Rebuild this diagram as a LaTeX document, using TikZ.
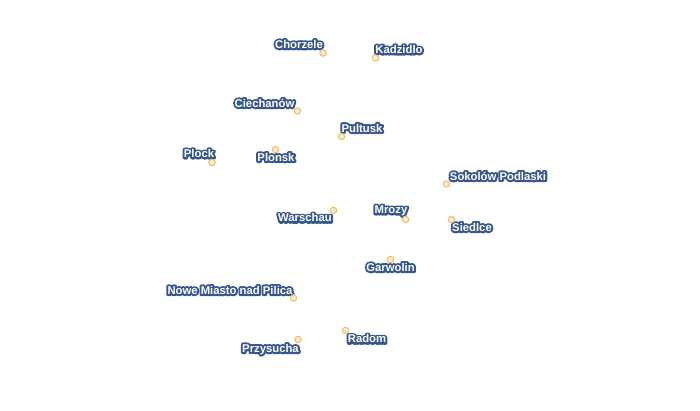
\documentclass[tikz,border=0pt]{standalone}
\usepackage{fontspec}
\setmainfont{Liberation Sans}
\definecolor{markerline}{HTML}{F7C244}
\definecolor{markerfill}{HTML}{E8ECF2}
\newcommand{\halotext}[1]{\makebox[0pt][c]{\special{pdf:code q 2 Tr 4.0 w 1 J 1 j 0.21 0.34 0.55 RG 0.21 0.34 0.55 rg}#1\special{pdf:code 0 Tr Q}}\makebox[0pt][c]{\color{white}#1}}
\tikzset{
  x=1pt,y=-1pt,
  place/.style={circle,draw=markerline,fill=markerfill,line width=1pt,minimum size=6.5pt,inner sep=0pt},
  city/.style={inner sep=0pt,anchor=base,font=\fontsize{11.3}{12}\bfseries}
}
\begin{document}
\begin{tikzpicture}
\useasboundingbox (0,0) rectangle (700,410);
\node[city] (t1) at (299,48.3) {\halotext{Chorzele}};
\node[city] (t2) at (399,53.5) {\halotext{Kadzidlo}};
\node[city] (t3) at (264.5,107.2) {\halotext{Ciechanów}};
\node[city] (t4) at (362,132) {\halotext{Pultusk}};
\node[city] (t5) at (199,157.5) {\halotext{Plock}};
\node[city] (t6) at (276,161.2) {\halotext{Plonsk}};
\node[city] (t7) at (498,180.2) {\halotext{Sokolów Podlaski}};
\node[city] (t8) at (305,221.8) {\halotext{Warschau}};
\node[city] (t9) at (391,213.5) {\halotext{Mrozy}};
\node[city] (t10) at (472,231.2) {\halotext{Siedlce}};
\node[city] (t11) at (390.5,271.2) {\halotext{Garwolin}};
\node[city] (t12) at (230,294.2) {\halotext{Nowe Miasto nad Pilica}};
\node[city] (t13) at (367,342.8) {\halotext{Radom}};
\node[city] (t14) at (270.5,352.2) {\halotext{Przysucha}};
\node[place] (p1) at (323,53) {};
\node[place] (p2) at (375.5,58) {};
\node[place] (p3) at (297.5,111) {};
\node[place] (p4) at (341.5,136.5) {};
\node[place] (p5) at (212,162.5) {};
\node[place] (p6) at (275.5,149.5) {};
\node[place] (p7) at (446.5,184) {};
\node[place] (p8) at (333.5,210.5) {};
\node[place] (p9) at (405.5,219.5) {};
\node[place] (p10) at (451.5,219.5) {};
\node[place] (p11) at (390.5,259.5) {};
\node[place] (p12) at (293.5,298) {};
\node[place] (p13) at (345.5,330.5) {};
\node[place] (p14) at (298,339.5) {};
\end{tikzpicture}
\end{document}
